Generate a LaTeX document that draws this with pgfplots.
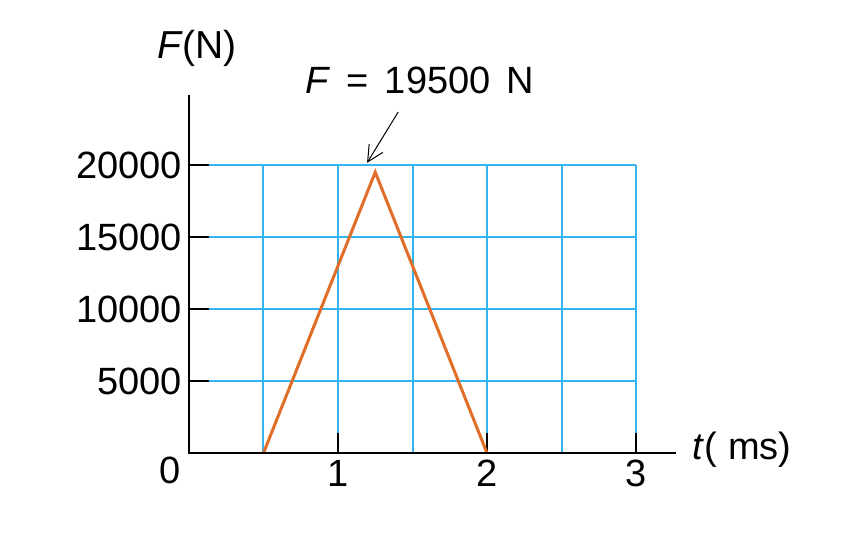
\documentclass[border=0pt]{standalone}
\usepackage{fontspec}
\setmainfont{Liberation Sans}
\usepackage{pgfplots}
\pgfplotsset{compat=1.18}
\usetikzlibrary{arrows.meta}
\definecolor{gridblue}{RGB}{50,180,240}
\definecolor{forceorange}{RGB}{224,110,40}
\begin{document}
\begin{tikzpicture}
\useasboundingbox (-94.5pt,-45.5pt) rectangle (333.5pt,226.5pt);
\begin{axis}[
  scale only axis, width=223.5pt, height=144pt,
  xmin=0, xmax=3, ymin=0, ymax=20000,
  clip=false,
  axis line style={draw=none},
  xtick={1,2,3},
  extra x ticks={0.5,1.5,2.5},
  extra x tick labels={},
  extra x tick style={major tick length=0pt, grid=major},
  ytick={5000,10000,15000,20000},
  grid=major,
  major grid style={gridblue, line width=1pt},
  tick pos=left, tick align=inside,
  major tick length=10pt,
  tick style={black, line width=0.75pt},
  scaled ticks=false,
  /pgf/number format/1000 sep={},
  /pgf/number format/assume math mode=true,
  ticklabel style={font=\fontsize{19}{22}\selectfont},
]
\addplot[forceorange, line width=1.5pt] coordinates {(0.5,0) (1.25,19500) (2,0)};
\draw[black, line width=0.75pt] (axis cs:3.27,0) -- (axis cs:0,0) -- (axis cs:0,24860);
\node[font=\fontsize{19.5}{22}\selectfont] at (axis cs:0.054,28125) {\textit{F}(N)};
\node[font=\fontsize{19}{22}\selectfont, anchor=west] at (axis cs:3.335,200) {\textit{t}( ms)};
\node[font=\fontsize{19}{22}\selectfont] at (axis cs:1.55,25900) {\textit{F}\hspace{8pt}=\hspace{8pt}19500\hspace{8pt}N};
\node[font=\fontsize{19}{22}\selectfont] at (axis cs:-0.128,-1180) {0};
\draw[black, line width=0.5pt, -{Straight Barb[length=8pt,width=8pt]}] (axis cs:1.404,23680) -- (axis cs:1.195,20150);
\end{axis}
\end{tikzpicture}
\end{document}
